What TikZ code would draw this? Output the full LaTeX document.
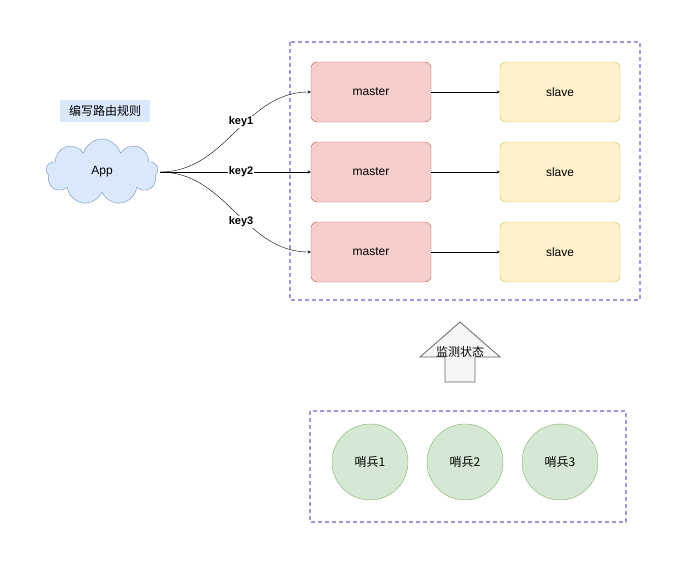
\documentclass[tikz,border=0pt]{standalone}
\usepackage{fontspec}
\setmainfont{Liberation Sans}
\newfontfamily\cjk{Noto Sans CJK SC}
\usetikzlibrary{positioning, shapes.symbols}
\definecolor{redfill}{HTML}{F8CECC}
\definecolor{redline}{HTML}{B85450}
\definecolor{yelfill}{HTML}{FFF2CC}
\definecolor{yelline}{HTML}{D6B656}
\definecolor{bluefill}{HTML}{DAE8FC}
\definecolor{blueline}{HTML}{6C8EBF}
\definecolor{grnfill}{HTML}{D5E8D4}
\definecolor{grnline}{HTML}{82B366}
\definecolor{boxline}{HTML}{9F98E0}
\tikzset{
  master/.style={draw=redline, fill=redfill, rounded corners=6pt, minimum width=120pt, minimum height=60pt},
  slave/.style={draw=yelline, fill=yelfill, rounded corners=6pt, minimum width=120pt, minimum height=60pt},
  sentinel/.style={circle, draw=grnline, fill=grnfill, minimum size=76pt},
  group/.style={draw=boxline, line width=1.2pt, dash pattern=on 4pt off 3pt},
  keylabel/.style={fill=white, inner sep=1pt, font=\fontsize{11}{13}\selectfont\bfseries}
}
\begin{document}
\begin{tikzpicture}[x=1pt, y=-1pt, font=\fontsize{12}{14}\selectfont]
    \useasboundingbox (0,0) rectangle (682,570);

    % Redis nodes
    \draw[group] (290,42) rectangle (640,300);
    \foreach \i/\y in {1/92, 2/172, 3/252} {
        \node[master] (m\i) at (371,\y) {master};
        \node[slave] (s\i) at (560,\y) {slave};
        \draw[->, >=stealth] (m\i) -- (s\i);
    }

    % Client
    \node[cloud, cloud puffs=9, aspect=1.7, draw=blueline, fill=bluefill, minimum width=112pt, minimum height=66pt] (app) at (102,172) {App};
    \node[fill=bluefill, minimum width=90pt, minimum height=22pt] (rule) at (105,111) {\cjk 编写路由规则};
    \coordinate (src) at (160,172);
    \draw[->, >=stealth] (src) to[out=0, in=180] (m1.west);
    \draw[->, >=stealth] (src) -- (m2.west);
    \draw[->, >=stealth] (src) to[out=0, in=180] (m3.west);
    \node[keylabel] (k1) at (241,122) {key1};
    \node[keylabel] (k2) at (241,172) {key2};
    \node[keylabel] (k3) at (241,222) {key3};

    % Sentinels
    \draw[draw=black!60, fill=black!4, line width=0.8pt] (460,322) -- (500,357) -- (475,357) -- (475,382)
        -- (445,382) -- (445,357) -- (420,357) -- cycle;
    \node (watch) at (460,352) {\cjk 监测状态};
    \draw[group] (310,411) rectangle (626,522);
    \foreach \i/\x in {1/370, 2/465, 3/560}
        \node[sentinel] (st\i) at (\x,462) {\cjk 哨兵\i};
\end{tikzpicture}
\end{document}
